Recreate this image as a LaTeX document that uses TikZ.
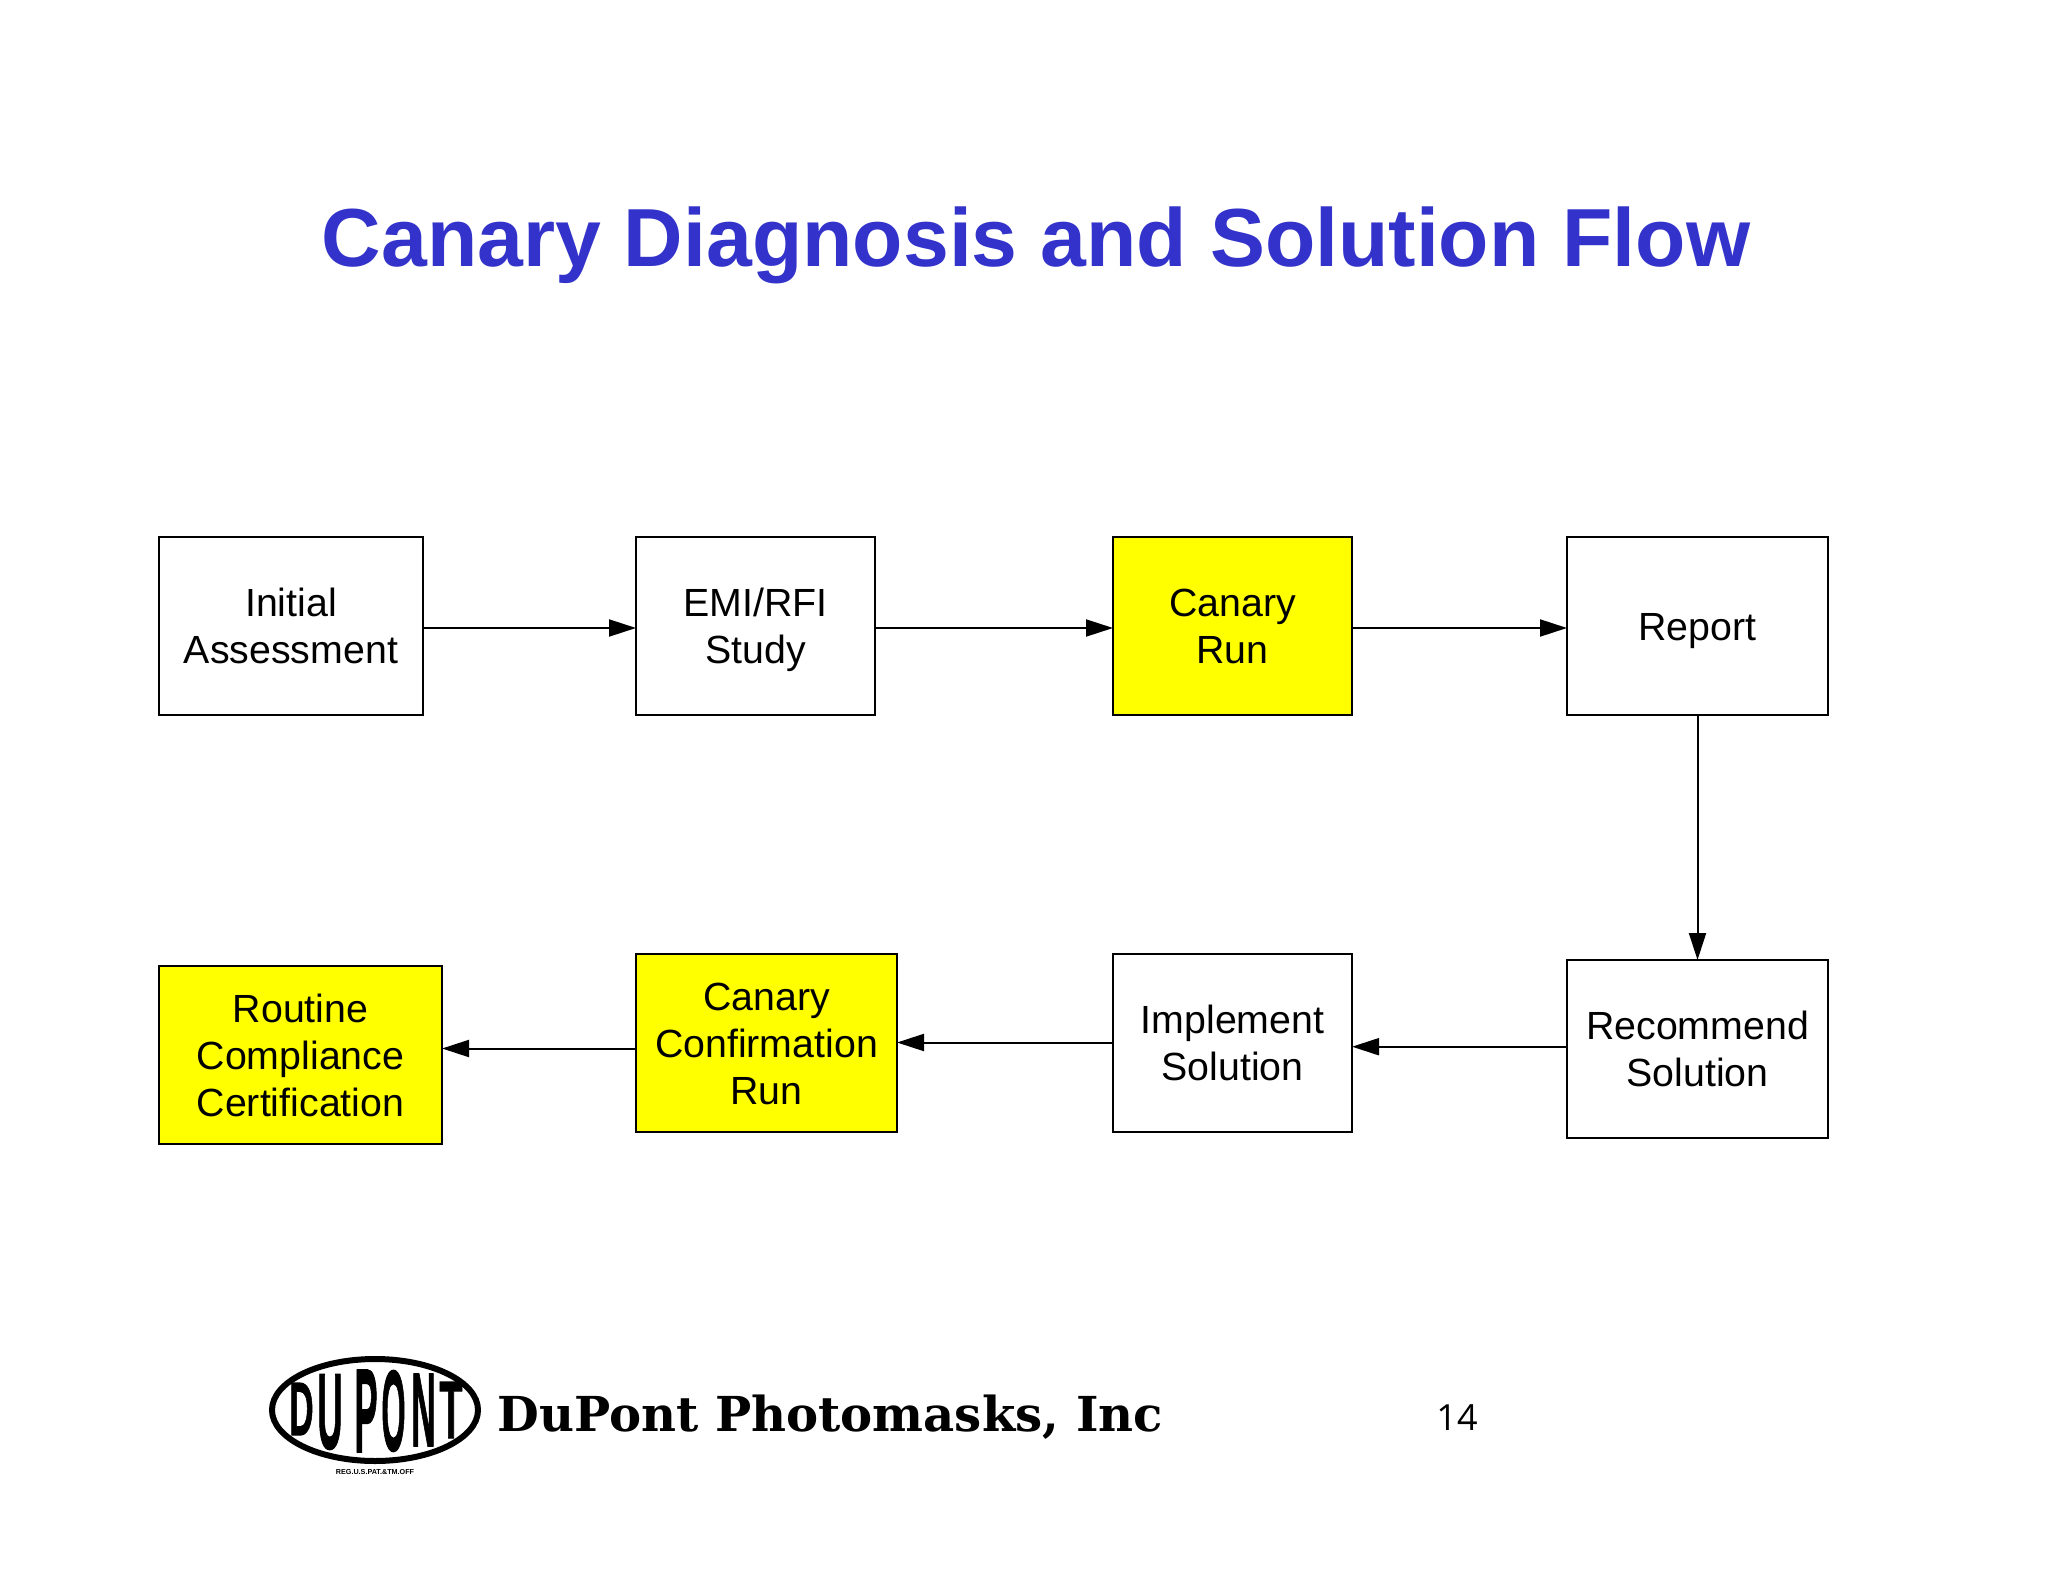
\documentclass[tikz,border=0pt]{standalone}
\usepackage{fontspec}
\usepackage{graphicx}
\usetikzlibrary{arrows.meta,shapes.geometric}
\setmainfont{Liberation Sans}
\newfontfamily\serifbold{DejaVu Serif}[BoldFont={DejaVu Serif Bold}]
\newfontfamily\numfont{Open Sans}
\newfontfamily\logofont{Liberation Sans Bold}[FakeBold=1.5]
\definecolor{titleblue}{HTML}{3333CC}
\definecolor{boxyellow}{HTML}{FFFF00}
\newcommand{\logoletter}[3]{\resizebox{#1}{#2}{\logofont #3}}
\newcommand{\lh}{\vphantom{Ay}}
\newcommand{\lt}{\rule{0pt}{18.3pt}}
\tikzset{
  x=0.5pt,y=-0.5pt,
  flowbox/.style={draw=black,line width=1pt,inner sep=0pt,outer sep=0pt,align=center,anchor=north west,
    font=\fontsize{19.65pt}{23.6pt}\selectfont,fill=white},
  hot/.style={fill=boxyellow},
  flow/.style={draw=black,line width=1pt,-{Triangle[length=13.5pt,width=8.5pt]},shorten >=0pt},
  logoltr/.style={inner sep=0pt,outer sep=0pt},
}
\begin{document}
\begin{tikzpicture}
\useasboundingbox (0,0) rectangle (2048,1582);
\fill[white] (0,0) rectangle (2048,1582);
\node[text=titleblue,font=\fontsize{41.2pt}{48pt}\selectfont\bfseries,inner sep=0pt] (title) at (1036,245) {Canary Diagnosis and Solution Flow};

\node[flowbox,minimum width=132pt,minimum height=89pt] (ia) at (159,537) {\lt Initial\\Assessment\lh};
\node[flowbox,minimum width=119.5pt,minimum height=89pt] (emi) at (636,537) {\lt EMI/RFI\\Study\lh};
\node[flowbox,hot,minimum width=119.5pt,minimum height=89pt] (cr) at (1113,537) {\lt Canary\\Run\lh};
\node[flowbox,minimum width=130.5pt,minimum height=89pt] (rep) at (1567,537) {\lt Report};
\node[flowbox,minimum width=130.5pt,minimum height=89pt] (rec) at (1567,960) {\lt Recommend\\Solution\lh};
\node[flowbox,minimum width=119.5pt,minimum height=89pt] (imp) at (1113,954) {\lt Implement\\Solution\lh};
\node[flowbox,hot,minimum width=130.5pt,minimum height=89pt] (conf) at (636,954) {\lt Canary\\Confirmation\\Run\lh};
\node[flowbox,hot,minimum width=141.5pt,minimum height=89pt] (rcc) at (159,966) {\lt Routine\\Compliance\\Certification\lh};

\coordinate (rowa) at (0,628);
\coordinate (rowb) at (0,1046.7);
\coordinate (rowc) at (0,1042.5);
\coordinate (rowd) at (0,1048.5);
\draw[flow] (ia.east |- rowa) -- (emi.west |- rowa);
\draw[flow] (emi.east |- rowa) -- (cr.west |- rowa);
\draw[flow] (cr.east |- rowa) -- (rep.west |- rowa);
\draw[flow] (rep.south) -- (rec.north);
\draw[flow] (rec.west |- rowb) -- (imp.east |- rowb);
\draw[flow] (imp.west |- rowc) -- (conf.east |- rowc);
\draw[flow] (conf.west |- rowd) -- (rcc.east |- rowd);

% logo
\node[draw=black,line width=3pt,ellipse,minimum width=103pt,minimum height=51pt,inner sep=0pt] (oval) at (375,1410) {};
\node[logoltr] (ld) at (301.5,1409) {\logoletter{12pt}{26pt}{D}};
\node[logoltr] (lu) at (330,1412) {\logoletter{12.5pt}{37pt}{U}};
\node[logoltr] (lp) at (366,1411) {\logoletter{11.5pt}{41pt}{P}};
\node[logoltr] (lo) at (393.5,1411) {\logoletter{12pt}{40pt}{O}};
\node[logoltr] (ln) at (423.5,1410) {\logoletter{12pt}{36pt}{N}};
\node[logoltr] (lt) at (451,1410) {\logoletter{11.5pt}{28pt}{T}};
\node[logoltr,font=\fontsize{3.6pt}{4pt}\selectfont\bfseries] (reg) at (375,1472) {REG.U.S.PAT.\&TM.OFF};

\node[font=\serifbold\fontsize{24.07pt}{28pt}\selectfont\bfseries,inner sep=0pt,anchor=base west] (co) at (497,1431) {DuPont Photomasks, Inc};
\node[font=\numfont\fontsize{18pt}{21pt}\selectfont,inner sep=0pt,anchor=base] (num) at (1457,1430) {14};
\end{tikzpicture}
\end{document}
